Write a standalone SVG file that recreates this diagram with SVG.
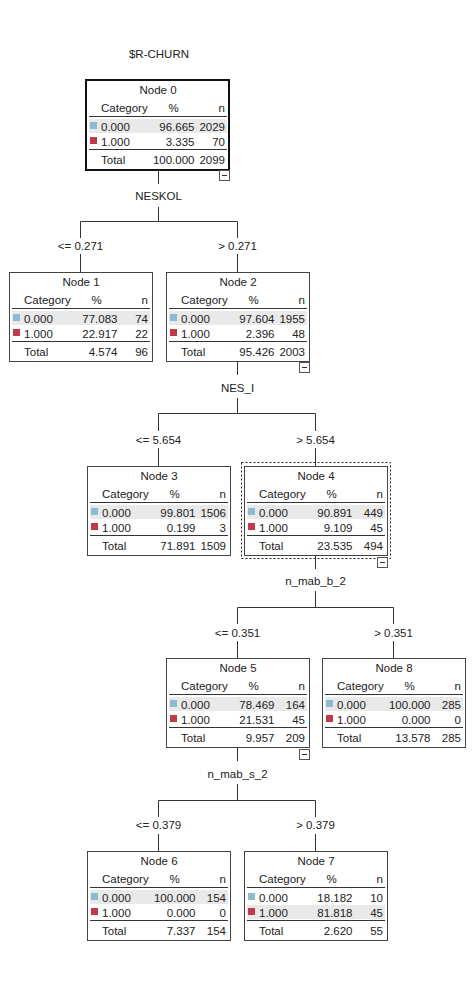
<svg xmlns="http://www.w3.org/2000/svg" width="474" height="987" viewBox="0 0 474 987">
<style>
text{font-family:"Liberation Sans",Arial,sans-serif;font-size:11.5px;fill:#222}
.m{text-anchor:middle}
.e{text-anchor:end}
.box{fill:#fff;stroke:#444;stroke-width:1}
.box0{fill:#fff;stroke:#111;stroke-width:2}
.sep{stroke:#333;stroke-width:1}
.sh{fill:#e9e9e9}
.b{fill:#8fbbd2}
.r{fill:#c03a4b}
.ln{stroke:#333;stroke-width:1;fill:none}
.ic{fill:#fff;stroke:#555;stroke-width:1}
.dash{fill:none;stroke:#222;stroke-width:1;stroke-dasharray:2,2}
</style>
<defs>
<g id="tbl">
<line class="sep" x1="3" y1="36.5" x2="141" y2="36.5"/>
<line class="sep" x1="3" y1="69.5" x2="141" y2="69.5"/>
<rect class="b" x="4" y="42" width="7" height="7"/>
<rect class="r" x="4" y="57" width="7" height="7"/>
<text x="15" y="32">Category</text>
<text class="m" x="87.5" y="32">%</text>
<text class="e" x="139" y="32">n</text>
<text x="15" y="50.5">0.000</text>
<text x="15" y="65.5">1.000</text>
<text x="15" y="84">Total</text>
</g>
<g id="icon">
<rect class="ic" x="0.5" y="0.5" width="10" height="10"/>
<line class="ln" x1="3" y1="5.5" x2="8" y2="5.5"/>
</g>
</defs>

<text class="m" x="159" y="58">$R-CHURN</text>

<g id="connectors">
<path class="ln" d="M158.5 171V184M158.5 207V221.5M80.5 221.5H237.5M80.5 221.5V238M80.5 254V272M237.5 221.5V238M237.5 254V272"/>
<path class="ln" d="M237.5 362V375M237.5 398V413.5M158.5 413.5H315.5M158.5 413.5V431M158.5 448V466M315.5 413.5V431M315.5 448V466"/>
<path class="ln" d="M315.5 556V569M315.5 591V607.5M237.5 607.5H393.5M237.5 607.5V624M237.5 641V658M393.5 607.5V624M393.5 641V658"/>
<path class="ln" d="M237.5 748V761M237.5 784V800.5M158.5 800.5H315.5M158.5 800.5V817M158.5 834V851M315.5 800.5V817M315.5 834V851"/>
<text class="m" x="158.5" y="199.5">NESKOL</text>
<text class="m" x="80.5" y="250">&lt;= 0.271</text>
<text class="m" x="237.5" y="250">&gt; 0.271</text>
<text class="m" x="237.5" y="391.5">NES_I</text>
<text class="m" x="158.5" y="443.5">&lt;= 5.654</text>
<text class="m" x="315.5" y="443.5">&gt; 5.654</text>
<text class="m" x="315.5" y="585">n_mab_b_2</text>
<text class="m" x="237.5" y="636.5">&lt;= 0.351</text>
<text class="m" x="393.5" y="636.5">&gt; 0.351</text>
<text class="m" x="237.5" y="777.5">n_mab_s_2</text>
<text class="m" x="158.5" y="829">&lt;= 0.379</text>
<text class="m" x="315.5" y="829">&gt; 0.379</text>
</g>

<g id="node0" transform="translate(85,79)">
<rect class="box0" x="1" y="1" width="143" height="90"/>
<g transform="translate(1,1)">
<rect class="sh" x="3" y="39" width="138" height="14"/>
<use href="#tbl"/>
<text class="m" x="72" y="14">Node 0</text>
<text class="e" x="108.5" y="50.5">96.665</text><text class="e" x="139" y="50.5">2029</text>
<text class="e" x="108.5" y="65.5">3.335</text><text class="e" x="139" y="65.5">70</text>
<text class="e" x="108.5" y="84">100.000</text><text class="e" x="139" y="84">2099</text>
</g>
<use href="#icon" x="134" y="91"/>
</g>

<g id="node1" transform="translate(9,272)">
<rect class="box" x="0.5" y="0.5" width="143" height="89"/>
<rect class="sh" x="3" y="39" width="138" height="14"/>
<use href="#tbl"/>
<text class="m" x="72" y="14">Node 1</text>
<text class="e" x="108.5" y="50.5">77.083</text><text class="e" x="139" y="50.5">74</text>
<text class="e" x="108.5" y="65.5">22.917</text><text class="e" x="139" y="65.5">22</text>
<text class="e" x="108.5" y="84">4.574</text><text class="e" x="139" y="84">96</text>
</g>

<g id="node2" transform="translate(166,272)">
<rect class="box" x="0.5" y="0.5" width="143" height="89"/>
<rect class="sh" x="3" y="39" width="138" height="14"/>
<use href="#tbl"/>
<text class="m" x="72" y="14">Node 2</text>
<text class="e" x="108.5" y="50.5">97.604</text><text class="e" x="139" y="50.5">1955</text>
<text class="e" x="108.5" y="65.5">2.396</text><text class="e" x="139" y="65.5">48</text>
<text class="e" x="108.5" y="84">95.426</text><text class="e" x="139" y="84">2003</text>
<use href="#icon" x="133" y="90"/>
</g>

<g id="node3" transform="translate(87,466)">
<rect class="box" x="0.5" y="0.5" width="143" height="89"/>
<rect class="sh" x="3" y="39" width="138" height="14"/>
<use href="#tbl"/>
<text class="m" x="72" y="14">Node 3</text>
<text class="e" x="108.5" y="50.5">99.801</text><text class="e" x="139" y="50.5">1506</text>
<text class="e" x="108.5" y="65.5">0.199</text><text class="e" x="139" y="65.5">3</text>
<text class="e" x="108.5" y="84">71.891</text><text class="e" x="139" y="84">1509</text>
</g>

<g id="node4" transform="translate(244,466)">
<rect class="dash" x="-2.5" y="-3.5" width="149" height="96"/>
<rect class="box" x="0.5" y="0.5" width="143" height="89"/>
<rect class="sh" x="3" y="39" width="138" height="14"/>
<use href="#tbl"/>
<text class="m" x="72" y="14">Node 4</text>
<text class="e" x="108.5" y="50.5">90.891</text><text class="e" x="139" y="50.5">449</text>
<text class="e" x="108.5" y="65.5">9.109</text><text class="e" x="139" y="65.5">45</text>
<text class="e" x="108.5" y="84">23.535</text><text class="e" x="139" y="84">494</text>
<use href="#icon" x="133" y="91"/>
</g>

<g id="node5" transform="translate(166,658)">
<rect class="box" x="0.5" y="0.5" width="143" height="89"/>
<rect class="sh" x="3" y="39" width="138" height="14"/>
<use href="#tbl"/>
<text class="m" x="72" y="14">Node 5</text>
<text class="e" x="108.5" y="50.5">78.469</text><text class="e" x="139" y="50.5">164</text>
<text class="e" x="108.5" y="65.5">21.531</text><text class="e" x="139" y="65.5">45</text>
<text class="e" x="108.5" y="84">9.957</text><text class="e" x="139" y="84">209</text>
<use href="#icon" x="133" y="91"/>
</g>

<g id="node8" transform="translate(322,658)">
<rect class="box" x="0.5" y="0.5" width="143" height="89"/>
<rect class="sh" x="3" y="39" width="138" height="14"/>
<use href="#tbl"/>
<text class="m" x="72" y="14">Node 8</text>
<text class="e" x="108.5" y="50.5">100.000</text><text class="e" x="139" y="50.5">285</text>
<text class="e" x="108.5" y="65.5">0.000</text><text class="e" x="139" y="65.5">0</text>
<text class="e" x="108.5" y="84">13.578</text><text class="e" x="139" y="84">285</text>
</g>

<g id="node6" transform="translate(87,851)">
<rect class="box" x="0.5" y="0.5" width="143" height="89"/>
<rect class="sh" x="3" y="39" width="138" height="14"/>
<use href="#tbl"/>
<text class="m" x="72" y="14">Node 6</text>
<text class="e" x="108.5" y="50.5">100.000</text><text class="e" x="139" y="50.5">154</text>
<text class="e" x="108.5" y="65.5">0.000</text><text class="e" x="139" y="65.5">0</text>
<text class="e" x="108.5" y="84">7.337</text><text class="e" x="139" y="84">154</text>
</g>

<g id="node7" transform="translate(244,851)">
<rect class="box" x="0.5" y="0.5" width="143" height="89"/>
<rect class="sh" x="3" y="54" width="138" height="14"/>
<use href="#tbl"/>
<text class="m" x="72" y="14">Node 7</text>
<text class="e" x="108.5" y="50.5">18.182</text><text class="e" x="139" y="50.5">10</text>
<text class="e" x="108.5" y="65.5">81.818</text><text class="e" x="139" y="65.5">45</text>
<text class="e" x="108.5" y="84">2.620</text><text class="e" x="139" y="84">55</text>
</g>
</svg>
